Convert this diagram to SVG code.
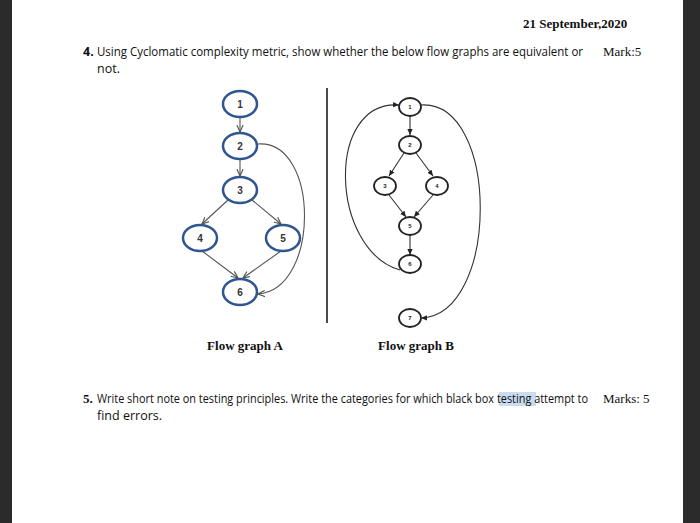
<svg xmlns="http://www.w3.org/2000/svg" width="700" height="523" viewBox="0 0 700 523">
<defs>
<marker id="ar" viewBox="0 0 10 10" refX="9" refY="5" markerWidth="7" markerHeight="7" orient="auto"><path d="M0,1 L9,5 L0,9" fill="none" stroke="#555" stroke-width="1.5"/></marker>
<marker id="arb" viewBox="0 0 10 10" refX="9" refY="5" markerWidth="6" markerHeight="6" orient="auto"><path d="M0,1 L9,5 L0,9 z" fill="#222"/></marker>
</defs>
<style>
.sans{font-family:"Open Sans","Liberation Sans",sans-serif;font-size:12.5px;fill:#111}
.ser{font-family:"Liberation Serif",serif;font-size:13px;fill:#111}
.b{font-weight:bold}
.na ellipse{fill:#fff;stroke:#2f5690;stroke-width:2.5}
.na text{font-family:"Liberation Sans",sans-serif;font-size:10px;font-weight:bold;fill:#333;text-anchor:middle}
.nb ellipse{fill:#fff;stroke:#222;stroke-width:1.8}
.nb text{font-family:"Liberation Sans",sans-serif;font-size:6px;font-weight:bold;fill:#222;text-anchor:middle}
.ea{fill:none;stroke:#555;stroke-width:1.1;marker-end:url(#ar)}
.eb{fill:none;stroke:#333;stroke-width:1.1;marker-end:url(#arb)}
</style>
<rect width="700" height="523" fill="#2b2b2b"/>
<rect x="12" y="0" width="671" height="523" fill="#fff"/>
<text class="ser b" x="523" y="28">21 September,2020</text>
<text class="sans b" x="83" y="56">4.</text>
<text class="sans" x="97" y="56" font-size="11.5" textLength="486" lengthAdjust="spacingAndGlyphs">Using Cyclomatic complexity metric, show whether the below flow graphs are equivalent or</text>
<text class="ser" x="603" y="56">Mark:5</text>
<text class="sans" x="97" y="73">not.</text>
<line x1="327" y1="88" x2="327" y2="323" stroke="#111" stroke-width="1.5"/>
<g id="connectors">
<path class="ea" d="M240,117 L240,132"/>
<path class="ea" d="M240,159 L240,176"/>
<path class="ea" d="M228,200 L202,224"/>
<path class="ea" d="M252,200 L281,224"/>
<path class="ea" d="M202,251 L238,278"/>
<path class="ea" d="M281,251 L243,278"/>
<path class="ea" d="M258,144 C320,140 320,290 258,294"/>
<path class="eb" d="M410,116 L410,135"/>
<path class="eb" d="M404,153 L389,176"/>
<path class="eb" d="M416,153 L433,176"/>
<path class="eb" d="M389,195 L406,217"/>
<path class="eb" d="M433,195 L414,217"/>
<path class="eb" d="M410,235 L410,255"/>
<path class="eb" d="M400,270 C330,250 325,100 399,105"/>
<path class="eb" d="M421,105 C500,100 500,315 421,318"/>
</g>
<g id="nodeA1" class="na"><ellipse cx="240" cy="104" rx="17" ry="13"/><text x="240" y="108">1</text></g>
<g id="nodeA2" class="na"><ellipse cx="240" cy="146" rx="17" ry="13"/><text x="240" y="150">2</text></g>
<g id="nodeA3" class="na"><ellipse cx="240" cy="190" rx="17" ry="13"/><text x="240" y="194">3</text></g>
<g id="nodeA4" class="na"><ellipse cx="200" cy="238" rx="17" ry="13"/><text x="200" y="242">4</text></g>
<g id="nodeA5" class="na"><ellipse cx="283" cy="238" rx="17" ry="13"/><text x="283" y="242">5</text></g>
<g id="nodeA6" class="na"><ellipse cx="240" cy="292" rx="17" ry="13"/><text x="240" y="296">6</text></g>
<g id="nodeB1" class="nb"><ellipse cx="410" cy="107" rx="11" ry="9"/><text x="410" y="109">1</text></g>
<g id="nodeB2" class="nb"><ellipse cx="410" cy="145" rx="11" ry="9"/><text x="410" y="147">2</text></g>
<g id="nodeB3" class="nb"><ellipse cx="385" cy="186" rx="11" ry="9"/><text x="385" y="188">3</text></g>
<g id="nodeB4" class="nb"><ellipse cx="437" cy="186" rx="11" ry="9"/><text x="437" y="188">4</text></g>
<g id="nodeB5" class="nb"><ellipse cx="410" cy="226" rx="11" ry="9"/><text x="410" y="228">5</text></g>
<g id="nodeB6" class="nb"><ellipse cx="410" cy="264" rx="11" ry="9"/><text x="410" y="266">6</text></g>
<g id="nodeB7" class="nb"><ellipse cx="410" cy="318" rx="11" ry="9"/><text x="410" y="320">7</text></g>
<text class="ser b" x="245" y="350" font-size="10.5" text-anchor="middle">Flow graph A</text>
<text class="ser b" x="416" y="350" font-size="10.5" text-anchor="middle">Flow graph B</text>
<rect x="499" y="392" width="37" height="14" fill="#c9dcf0"/>
<text class="ser b" x="83" y="403" font-size="13">5.</text>
<text class="sans" x="97" y="403" font-size="11.5" textLength="491" lengthAdjust="spacingAndGlyphs">Write short note on testing principles. Write the categories for which black box testing attempt to</text>
<text class="ser" x="603" y="403">Marks: 5</text>
<text class="sans" x="97" y="420">find errors.</text>
</svg>
